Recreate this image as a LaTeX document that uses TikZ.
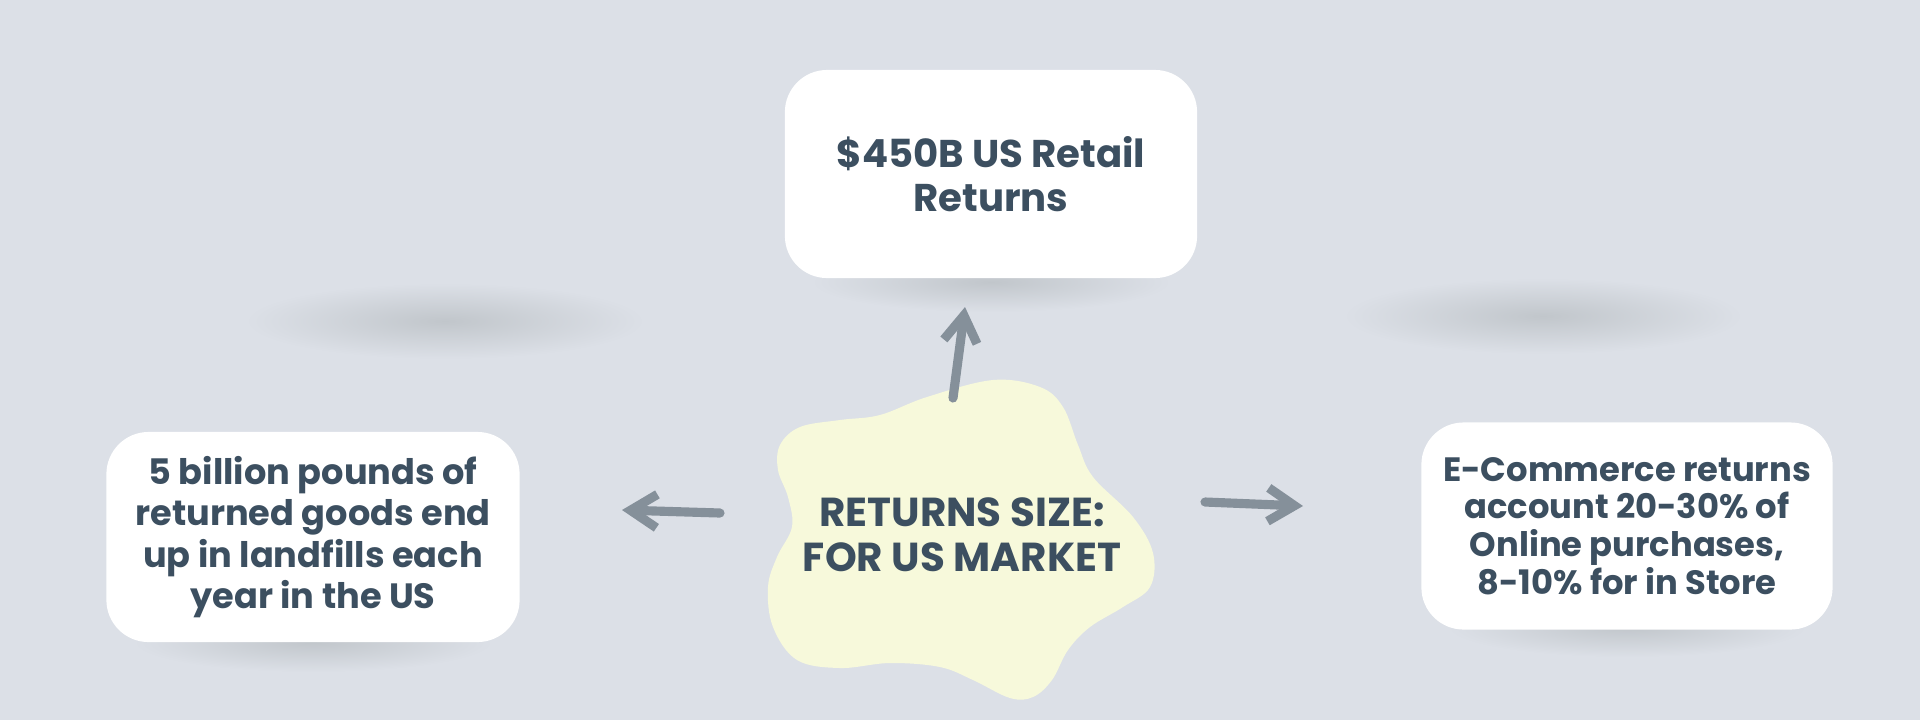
\documentclass[tikz,border=0pt]{standalone}
\usepackage{fontspec}
\setmainfont{Poppins}
\usetikzlibrary{arrows.meta}

\definecolor{bgcol}{HTML}{DCE0E7}
\definecolor{ink}{HTML}{3C4F60}
\definecolor{blobcol}{HTML}{F7F9DB}
\definecolor{arrowgray}{HTML}{85909A}
\definecolor{hazegray}{HTML}{C1C6CB}

\begin{document}
\begin{tikzpicture}[x=0.01cm,y=-0.01cm]
    \tikzset{
        card/.style={
            fill=white,
            rounded corners=12pt,
            minimum width=4.12cm,
            minimum height=2.08cm,
            inner sep=2pt,
            align=center,
            text=ink,
            font=\bfseries\fontsize{10}{11.8}\selectfont,
        },
        link/.style={
            draw=arrowgray,
            line width=2.6pt,
            line cap=round,
            -{Straight Barb[length=7.5pt,width=9.5pt]},
        },
        haze/.style={inner color=hazegray, outer color=bgcol},
    }

    % Background
    \fill[bgcol] (0,0) rectangle (1920,720);
    \useasboundingbox (0,0) rectangle (1920,720);

    % Soft shadows
    \shade[haze] (445,321) ellipse [x radius=2cm, y radius=0.38cm];
    \shade[haze] (1543,316) ellipse [x radius=2cm, y radius=0.38cm];
    \shade[haze] (991,282) ellipse [x radius=1.8cm, y radius=0.3cm];
    \shade[haze] (313,642) ellipse [x radius=1.8cm, y radius=0.3cm];
    \shade[haze] (1627,627) ellipse [x radius=1.8cm, y radius=0.3cm];

    % Blob
    \fill[blobcol] plot[smooth cycle, tension=0.6] coordinates {
        (993,380) (1040,387) (1063,407) (1078,445) (1093,477)
        (1133,517) (1153,553) (1150,587) (1123,607) (1090,627)
        (1068,650) (1052,680) (1033,697) (1010,698) (973,680)
        (940,667) (890,663) (840,668) (797,660) (773,627)
        (768,587) (777,557) (792,527) (788,497) (778,470)
        (780,445) (800,427) (840,420) (880,415) (927,397)
    };

    % Nodes
    \node[card, font=\bfseries\fontsize{11}{12.5}\selectfont] (retail) at (991,174) {\$450B US Retail\\Returns};
    \node[card, minimum width=4.13cm, minimum height=2.10cm] (landfill) at (313,537) {5 billion pounds of\\returned goods end\\up in landfills each\\year in the US};
    \node[card, minimum width=4.11cm, minimum height=2.07cm, font=\bfseries\fontsize{9.6}{10.7}\selectfont] (ecom) at (1627,526) {E-Commerce returns\\account 20-30\% of\\Online purchases,\\8-10\% for in Store};
    \node[text=ink, align=center, font=\bfseries\fontsize{11.5}{12.8}\selectfont] (core) at (962,535) {RETURNS SIZE:\\FOR US MARKET};

    % Arrow ends
    \coordinate (upS) at (953,398);
    \coordinate (upE) at (965,307);
    \coordinate (leftS) at (720,513);
    \coordinate (leftE) at (622,510);
    \coordinate (rightS) at (1205,502);
    \coordinate (rightE) at (1303,506);

    % Arrows
    \draw[link] (upS) -- (upE);
    \draw[link] (leftS) -- (leftE);
    \draw[link] (rightS) -- (rightE);

\end{tikzpicture}
\end{document}
